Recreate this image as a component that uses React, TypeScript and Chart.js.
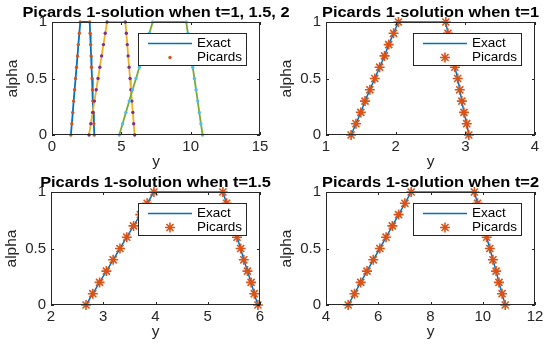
import React, { useEffect, useRef } from 'react';
import { Chart, registerables } from 'chart.js';

Chart.register(...registerables);

// ---------------- data ----------------
const alpha = [0, 0.1, 0.2, 0.3, 0.4, 0.5, 0.6, 0.7, 0.8, 0.9, 1];

// t = 1 (lower / upper branch, indexed by alpha)
const lowerT1 = [1.36, 1.43, 1.5, 1.56, 1.63, 1.7, 1.77, 1.84, 1.9, 1.97, 2.04];
const upperT1 = [3.05, 3.02, 2.98, 2.95, 2.92, 2.89, 2.85, 2.82, 2.79, 2.75, 2.72];
// t = 1.5
const lowerT15 = [2.67, 2.8, 2.93, 3.06, 3.19, 3.32, 3.45, 3.58, 3.71, 3.84, 3.97];
const upperT15 = [5.96, 5.89, 5.83, 5.76, 5.69, 5.63, 5.56, 5.49, 5.43, 5.36, 5.29];
// t = 2
const lowerT2 = [4.85, 5.09, 5.33, 5.57, 5.81, 6.06, 6.3, 6.54, 6.78, 7.02, 7.26];
const upperT2 = [10.86, 10.74, 10.62, 10.51, 10.39, 10.27, 10.15, 10.03, 9.92, 9.8, 9.68];

const titles = [
  'Picards 1-solution when t=1, 1.5, 2',
  'Picards 1-solution when t=1',
  'Picards 1-solution when t=1.5',
  'Picards 1-solution when t=2',
];
const xTicksA = [0, 5, 10, 15];
const xTicksB = [1, 2, 3, 4];
const xTicksC = [2, 3, 4, 5, 6];
const xTicksD = [4, 6, 8, 10, 12];
const yTicks = [0, 0.5, 1];
const legendLabels = ['Exact', 'Picards'];
const xLabel = 'y';
const yLabel = 'alpha';

// ---------------- styles ----------------
const BLUE = '#0072BD';
const ORANGE = '#D95319';
const YELLOW = '#EDB120';
const PURPLE = '#7E2F8E';
const GREEN = '#77AC30';
const CYAN = '#4DBEEE';
const AXIS = '#262626';
const FONT = '"Liberation Sans", Arial, Helvetica, sans-serif';
const W = 550;
const H = 347;
const YW = 45;
const XH = 22;

type Branch = { lower: number[]; upper: number[]; line: string; marker: string };

function exactPoints(lower: number[], upper: number[]) {
  const pts = lower.map((x, i) => ({ x, y: alpha[i] }));
  for (let i = upper.length - 1; i >= 0; i--) pts.push({ x: upper[i], y: alpha[i] });
  return pts;
}

type PanelCfg = {
  title: string;
  L: number; R: number; T: number; B: number;
  xTicks: number[];
  branches: Branch[];
  marker: 'dot' | 'star';
};

const panels: PanelCfg[] = [
  {
    title: titles[0], L: 52, R: 260, T: 22, B: 135, xTicks: xTicksA, marker: 'dot',
    branches: [
      { lower: lowerT1, upper: upperT1, line: BLUE, marker: ORANGE },
      { lower: lowerT15, upper: upperT15, line: YELLOW, marker: PURPLE },
      { lower: lowerT2, upper: upperT2, line: GREEN, marker: CYAN },
    ],
  },
  {
    title: titles[1], L: 326, R: 535, T: 22, B: 135, xTicks: xTicksB, marker: 'star',
    branches: [{ lower: lowerT1, upper: upperT1, line: BLUE, marker: ORANGE }],
  },
  {
    title: titles[2], L: 51, R: 260, T: 192, B: 305, xTicks: xTicksC, marker: 'star',
    branches: [{ lower: lowerT15, upper: upperT15, line: BLUE, marker: ORANGE }],
  },
  {
    title: titles[3], L: 326, R: 535, T: 192, B: 305, xTicks: xTicksD, marker: 'star',
    branches: [{ lower: lowerT2, upper: upperT2, line: BLUE, marker: ORANGE }],
  },
];

function drawStar(ctx: CanvasRenderingContext2D, x: number, y: number, r: number, color: string) {
  ctx.save();
  ctx.strokeStyle = color;
  ctx.lineWidth = 1.6;
  ctx.beginPath();
  ctx.moveTo(x, y - r); ctx.lineTo(x, y + r);
  ctx.moveTo(x - r, y); ctx.lineTo(x + r, y);
  const d = Math.cos(Math.PI / 4) * r;
  ctx.moveTo(x - d, y - d); ctx.lineTo(x + d, y + d);
  ctx.moveTo(x - d, y + d); ctx.lineTo(x + d, y - d);
  ctx.stroke();
  ctx.restore();
}

function Panel({ cfg }: { cfg: PanelCfg }) {
  const ref = useRef<HTMLCanvasElement | null>(null);
  useEffect(() => {
    const canvas = ref.current;
    if (!canvas) return;
    const datasets: any[] = [];
    let order = cfg.branches.length * 2;
    cfg.branches.forEach((b) => {
      const pts = exactPoints(b.lower, b.upper);
      datasets.push({
        label: legendLabels[0],
        data: pts,
        showLine: true,
        borderColor: b.line,
        borderWidth: cfg.marker === 'dot' ? 1.8 : 1.5,
        pointRadius: 0,
        fill: false,
        tension: 0,
        clip: false,
        order: order--,
      });
      datasets.push({
        label: legendLabels[1],
        data: pts,
        showLine: false,
        pointStyle: cfg.marker === 'dot' ? 'circle' : 'star',
        pointRadius: cfg.marker === 'dot' ? 1.7 : 5,
        borderWidth: cfg.marker === 'dot' ? 0 : 1.6,
        borderColor: b.marker,
        backgroundColor: b.marker,
        clip: false,
        order: order--,
      });
    });

    const frame = {
      id: 'frame',
      afterDraw(chart: any) {
        const ctx: CanvasRenderingContext2D = chart.ctx;
        const { left, right, top, bottom } = chart.chartArea;
        const xs = chart.scales.x;
        const ys = chart.scales.y;
        ctx.save();
        // box
        ctx.strokeStyle = AXIS;
        ctx.lineWidth = 1;
        ctx.strokeRect(left + 0.5, top + 0.5, right - left - 1, bottom - top - 1);
        // inward ticks
        ctx.beginPath();
        xs.ticks.forEach((t: any) => {
          const p = Math.round(xs.getPixelForValue(t.value)) + 0.5;
          ctx.moveTo(p, bottom); ctx.lineTo(p, bottom - 3);
          ctx.moveTo(p, top); ctx.lineTo(p, top + 3);
        });
        ys.ticks.forEach((t: any) => {
          const p = Math.round(ys.getPixelForValue(t.value)) + 0.5;
          ctx.moveTo(left, p); ctx.lineTo(left + 3, p);
          ctx.moveTo(right, p); ctx.lineTo(right - 3, p);
        });
        ctx.stroke();

        // legend
        const lx = right - 122;
        const ly = top + 11;
        const lw = 108;
        const lh = 32;
        ctx.fillStyle = '#ffffff';
        ctx.fillRect(lx, ly, lw, lh);
        ctx.strokeStyle = AXIS;
        ctx.strokeRect(lx + 0.5, ly + 0.5, lw, lh);
        const b0 = cfg.branches[0];
        ctx.strokeStyle = b0.line;
        ctx.lineWidth = 1.5;
        ctx.beginPath();
        ctx.moveTo(lx + 10, ly + 10.5);
        ctx.lineTo(lx + 54, ly + 10.5);
        ctx.stroke();
        if (cfg.marker === 'dot') {
          ctx.fillStyle = b0.marker;
          ctx.beginPath();
          ctx.arc(lx + 32, ly + 24.5, 1.7, 0, Math.PI * 2);
          ctx.fill();
        } else {
          drawStar(ctx, lx + 32, ly + 24.5, 5, b0.marker);
        }
        ctx.fillStyle = '#000000';
        ctx.font = `13.5px ${FONT}`;
        ctx.textAlign = 'left';
        ctx.textBaseline = 'middle';
        ctx.fillText(legendLabels[0], lx + 59, ly + 10.5);
        ctx.fillText(legendLabels[1], lx + 59, ly + 24.5);

        // axis labels
        ctx.fillStyle = AXIS;
        ctx.font = `15.5px ${FONT}`;
        ctx.textAlign = 'center';
        ctx.textBaseline = 'alphabetic';
        ctx.fillText(xLabel, (left + right) / 2, bottom + 31);
        ctx.save();
        ctx.translate(left - 39, (top + bottom) / 2);
        ctx.rotate(-Math.PI / 2);
        ctx.textBaseline = 'middle';
        ctx.fillText(yLabel, 0, 0);
        ctx.restore();

        // title
        ctx.save();
        ctx.fillStyle = '#000000';
        ctx.font = `bold 14px ${FONT}`;
        ctx.textAlign = 'center';
        ctx.textBaseline = 'alphabetic';
        ctx.translate((left + right) / 2, top - 5);
        ctx.scale(1.17, 1);
        ctx.fillText(cfg.title, 0, 0);
        ctx.restore();
        ctx.restore();
      },
    };

    const xt = cfg.xTicks;
    const chart = new Chart(canvas, {
      type: 'scatter',
      data: { datasets },
      options: {
        animation: false,
        responsive: false,
        devicePixelRatio: 1,
        events: [],
        layout: {
          padding: { left: cfg.L - YW, right: W - cfg.R, top: cfg.T, bottom: H - cfg.B - XH },
        },
        plugins: {
          legend: { display: false },
          title: { display: false },
          tooltip: { enabled: false },
        },
        scales: {
          x: {
            type: 'linear',
            min: xt[0],
            max: xt[xt.length - 1],
            afterFit: (s: any) => { s.height = XH; },
            afterBuildTicks: (s: any) => { s.ticks = xt.map((v) => ({ value: v })); },
            grid: { display: false, drawTicks: false },
            border: { display: false },
            ticks: {
              color: AXIS,
              font: { family: FONT, size: 15 },
              padding: 2.5,
              maxRotation: 0,
              autoSkip: false,
              callback: (v: any) => String(v),
            },
          },
          y: {
            type: 'linear',
            min: yTicks[0],
            max: yTicks[yTicks.length - 1],
            afterFit: (s: any) => { s.width = YW; },
            afterBuildTicks: (s: any) => { s.ticks = yTicks.map((v) => ({ value: v })); },
            grid: { display: false, drawTicks: false },
            border: { display: false },
            ticks: {
              color: AXIS,
              font: { family: FONT, size: 15 },
              padding: 5,
              autoSkip: false,
              callback: (v: any) => String(v),
            },
          },
        },
      } as any,
      plugins: [frame],
    });
    return () => chart.destroy();
  }, [cfg]);
  return (
    <canvas
      ref={ref}
      width={W}
      height={H}
      style={{ position: 'absolute', left: 0, top: 0, width: W, height: H }}
    />
  );
}

export default function App() {
  return (
    <div style={{ position: 'absolute', left: 0, top: 0, width: W, height: H, background: '#ffffff', overflow: 'hidden' }}>
      {panels.map((p, i) => (
        <Panel key={i} cfg={p} />
      ))}
    </div>
  );
}
